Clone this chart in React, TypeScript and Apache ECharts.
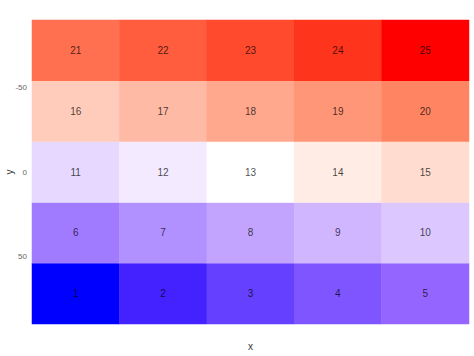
import React, { useEffect, useRef } from "react";
import * as echarts from "echarts";

const xCategories = ["1", "2", "3", "4", "5"];
const yCategories = ["1", "2", "3", "4", "5"];
// rows from bottom to top
const values: number[][] = [
  [1, 2, 3, 4, 5],
  [6, 7, 8, 9, 10],
  [11, 12, 13, 14, 15],
  [16, 17, 18, 19, 20],
  [21, 22, 23, 24, 25],
];
const colorScale = [
  "#0000FF", "#4422FF", "#6540FF", "#7F55FF", "#9466FF",
  "#A07AFF", "#B190FF", "#C2A4FF", "#D0B6FF", "#DCC8FF",
  "#E6D8FF", "#F3EAFF", "#FFFFFF", "#FFEDE5", "#FFDCCF",
  "#FFCCBC", "#FFBAA5", "#FFA88E", "#FF9678", "#FF8462",
  "#FF7050", "#FF5D3E", "#FF4A2E", "#FF341C", "#FF0000",
];
const yTickValues = [-50, 0, 50];
const yRange = [-90, 90];

export default function App() {
  const ref = useRef<HTMLDivElement>(null);
  useEffect(() => {
    if (!ref.current) return;
    const chart = echarts.init(ref.current, undefined, { renderer: "svg" });
    const data: number[][] = [];
    values.forEach((row, yi) => row.forEach((v, xi) => data.push([xi, yi, v])));
    chart.setOption({
      animation: false,
      textStyle: { fontFamily: "Liberation Sans, Arial, sans-serif" },
      grid: {
        left: 32,
        right: 5,
        top: 20,
        bottom: 32,
        containLabel: false,
        outerBoundsMode: "none",
      },
      xAxis: {
        type: "category",
        data: xCategories,
        axisLine: { show: false },
        axisTick: { show: false },
        axisLabel: { show: false },
        splitLine: { show: false },
        name: "x",
        nameLocation: "middle",
        nameGap: 17,
        nameMoveOverlap: false,
        nameTextStyle: { fontSize: 10, color: "#333" },
      },
      yAxis: [
        {
          type: "category",
          data: yCategories,
          show: false,
        },
        {
          type: "value",
          position: "left",
          inverse: true,
          min: yRange[0],
          max: yRange[1],
          axisLine: { show: false },
          axisTick: { show: false },
          splitLine: { show: false },
          axisLabel: {
            customValues: yTickValues,
            fontSize: 8,
            color: "#666",
            margin: 5,
          },
          name: "y",
          nameLocation: "middle",
          nameGap: 23,
          nameRotate: 90,
          nameMoveOverlap: false,
          nameTextStyle: { fontSize: 10, color: "#333", verticalAlign: "middle" },
        },
      ],
      visualMap: {
        show: false,
        min: 1,
        max: 25,
        dimension: 2,
        inRange: { color: colorScale },
      },
      series: [
        {
          type: "heatmap",
          data,
          xAxisIndex: 0,
          yAxisIndex: 0,
          label: {
            show: true,
            fontSize: 10,
            color: "rgba(0,0,0,0.72)",
          },
          itemStyle: { borderWidth: 0 },
        },
      ],
    });
    return () => chart.dispose();
  }, []);
  return <div ref={ref} style={{ width: 474, height: 356, position: "absolute", left: 0, top: 0 }} />;
}
